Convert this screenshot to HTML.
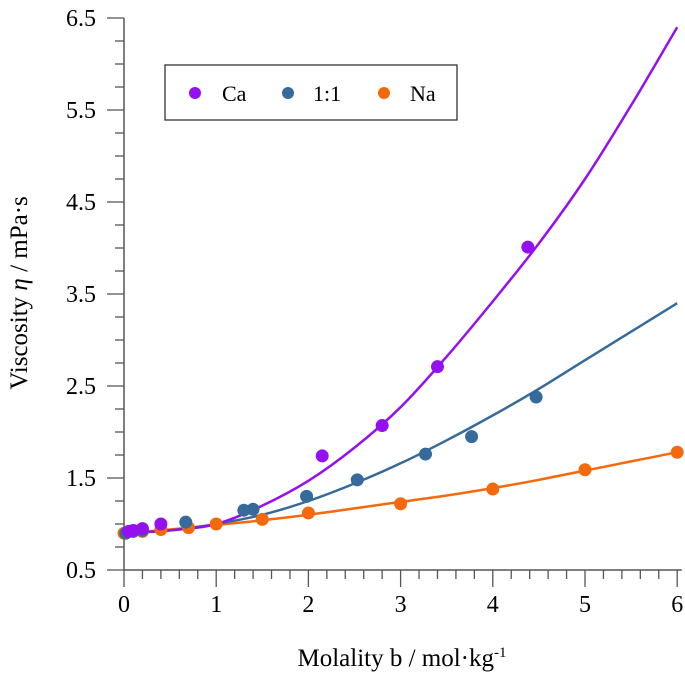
<!DOCTYPE html>
<html><head><meta charset="utf-8"><style>
html,body{margin:0;padding:0;background:#fff;}
svg{display:block;font-family:"Liberation Serif",serif;}
</style></head><body>
<svg id="chart" width="685" height="675" viewBox="0 0 685 675" xmlns="http://www.w3.org/2000/svg">
<g id="axes"></g>
<g id="series"></g>
<g>
<rect x="165" y="65" width="292" height="55" fill="#fff" stroke="#333" stroke-width="1.3"/>
<g><circle cx="195" cy="93" r="6" fill="#9410f0"/><text x="222" y="101" font-size="22">Ca</text></g>
<g><circle cx="288" cy="93" r="6" fill="#356a9a"/><text x="313" y="101" font-size="22">1:1</text></g>
<g><circle cx="384" cy="93" r="6" fill="#f5690d"/><text x="410" y="101" font-size="22">Na</text></g>
</g>
<text x="402" y="666" font-size="25" text-anchor="middle">Molality b / mol·kg<tspan font-size="15" dy="-9">-1</tspan></text>
<text transform="translate(27,293) rotate(-90)" font-size="25" text-anchor="middle">Viscosity <tspan font-style="italic">η</tspan> / mPa·s</text>
</svg>
<script>
const xTicks=[0,1,2,3,4,5,6];
const yTicks=[0.5,1.5,2.5,3.5,4.5,5.5,6.5];
const yTickLabels=["0.5","1.5","2.5","3.5","4.5","5.5","6.5"];
const fitX=[0,0.5,1,1.5,2,2.5,3,3.5,4,4.5,5,5.5,6];
const fitCa=[0.90,0.93,1.00,1.20,1.47,1.83,2.27,2.82,3.42,4.05,4.75,5.55,6.40];
const fit11=[0.90,0.93,1.00,1.10,1.25,1.44,1.66,1.91,2.18,2.47,2.78,3.09,3.40];
const fitNa=[0.90,0.94,0.99,1.04,1.10,1.17,1.24,1.31,1.39,1.48,1.58,1.68,1.78];
const caX=[0.05,0.1,0.2,0.4,2.15,2.8,3.4,4.38];
const caY=[0.92,0.93,0.95,1.0,1.74,2.07,2.71,4.01];
const s11X=[0.02,0.1,0.2,0.67,1.3,1.4,1.98,2.53,3.27,3.77,4.47];
const s11Y=[0.9,0.92,0.93,1.02,1.15,1.16,1.3,1.48,1.76,1.95,2.38];
const naX=[0,0.2,0.4,0.7,1,1.5,2,3,4,5,6];
const naY=[0.9,0.92,0.94,0.96,1.0,1.05,1.12,1.22,1.38,1.59,1.78];
const NS="http://www.w3.org/2000/svg";
const X0=124,XS=92.2,Y0=570,YS=92;
function sx(v){return X0+v*XS;}
function sy(v){return Y0-(v-0.5)*YS;}
function mk(tag,attrs,parent){const e=document.createElementNS(NS,tag);for(const k in attrs)e.setAttribute(k,attrs[k]);parent.appendChild(e);return e;}
const axes=document.getElementById('axes');
let e=mk('line',{x1:X0,y1:Y0,x2:sx(6.05),y2:Y0,stroke:'#555','stroke-width':1.5},axes);


e=mk('line',{x1:X0,y1:Y0,x2:X0,y2:sy(6.5),stroke:'#555','stroke-width':1.5},axes);


for(let i=0;i<=30;i++){const v=i*0.2;const major=i%5===0;
 e=mk('line',{x1:sx(v),y1:Y0,x2:sx(v),y2:Y0+(major?17:9),stroke:'#555','stroke-width':1.3},axes);
 
 }
xTicks.forEach(v=>{e=mk('text',{x:sx(v),y:612,'font-size':24,'text-anchor':'middle'},axes);e.textContent=v;
 
 });
for(let i=0;i<=24;i++){const v=0.5+i*0.25;const major=i%4===0;
 e=mk('line',{x1:X0-(major?17:9),y1:sy(v),x2:X0,y2:sy(v),stroke:'#555','stroke-width':1.3},axes);
 
 }
yTicks.forEach((v,i)=>{e=mk('text',{x:96,y:sy(v)+8,'font-size':24,'text-anchor':'end'},axes);e.textContent=yTickLabels[i];
 
 });
const ser=document.getElementById('series');
function curve(ys,color,name){
 const P=fitX.map((x,i)=>[sx(x),sy(ys[i])]);
 let d='M'+P[0][0].toFixed(1)+','+P[0][1].toFixed(1);
 for(let i=0;i<P.length-1;i++){
  const p0=P[Math.max(0,i-1)],p1=P[i],p2=P[i+1],p3=P[Math.min(P.length-1,i+2)];
  const c1=[p1[0]+(p2[0]-p0[0])/6,p1[1]+(p2[1]-p0[1])/6];
  const c2=[p2[0]-(p3[0]-p1[0])/6,p2[1]-(p3[1]-p1[1])/6];
  d+=' C'+c1.map(v=>v.toFixed(1)).join(',')+' '+c2.map(v=>v.toFixed(1)).join(',')+' '+p2.map(v=>v.toFixed(1)).join(',');
 }
 const p=mk('path',{d:d,fill:'none',stroke:color,'stroke-width':2.5},ser);
 
 }
function pts(xs,ys,color,name){xs.forEach((x,i)=>{
 const c=mk('circle',{cx:sx(x),cy:sy(ys[i]),r:6.5,fill:color},ser);
 
 });}
curve(fitNa,'#f5690d','na-fit-line');
curve(fit11,'#356a9a','one-one-fit-line');
curve(fitCa,'#9410f0','ca-fit-line');
pts(naX,naY,'#f5690d','na-point');
pts(s11X,s11Y,'#356a9a','one-one-point');
pts(caX,caY,'#9410f0','ca-point');
</script>
</body></html>
